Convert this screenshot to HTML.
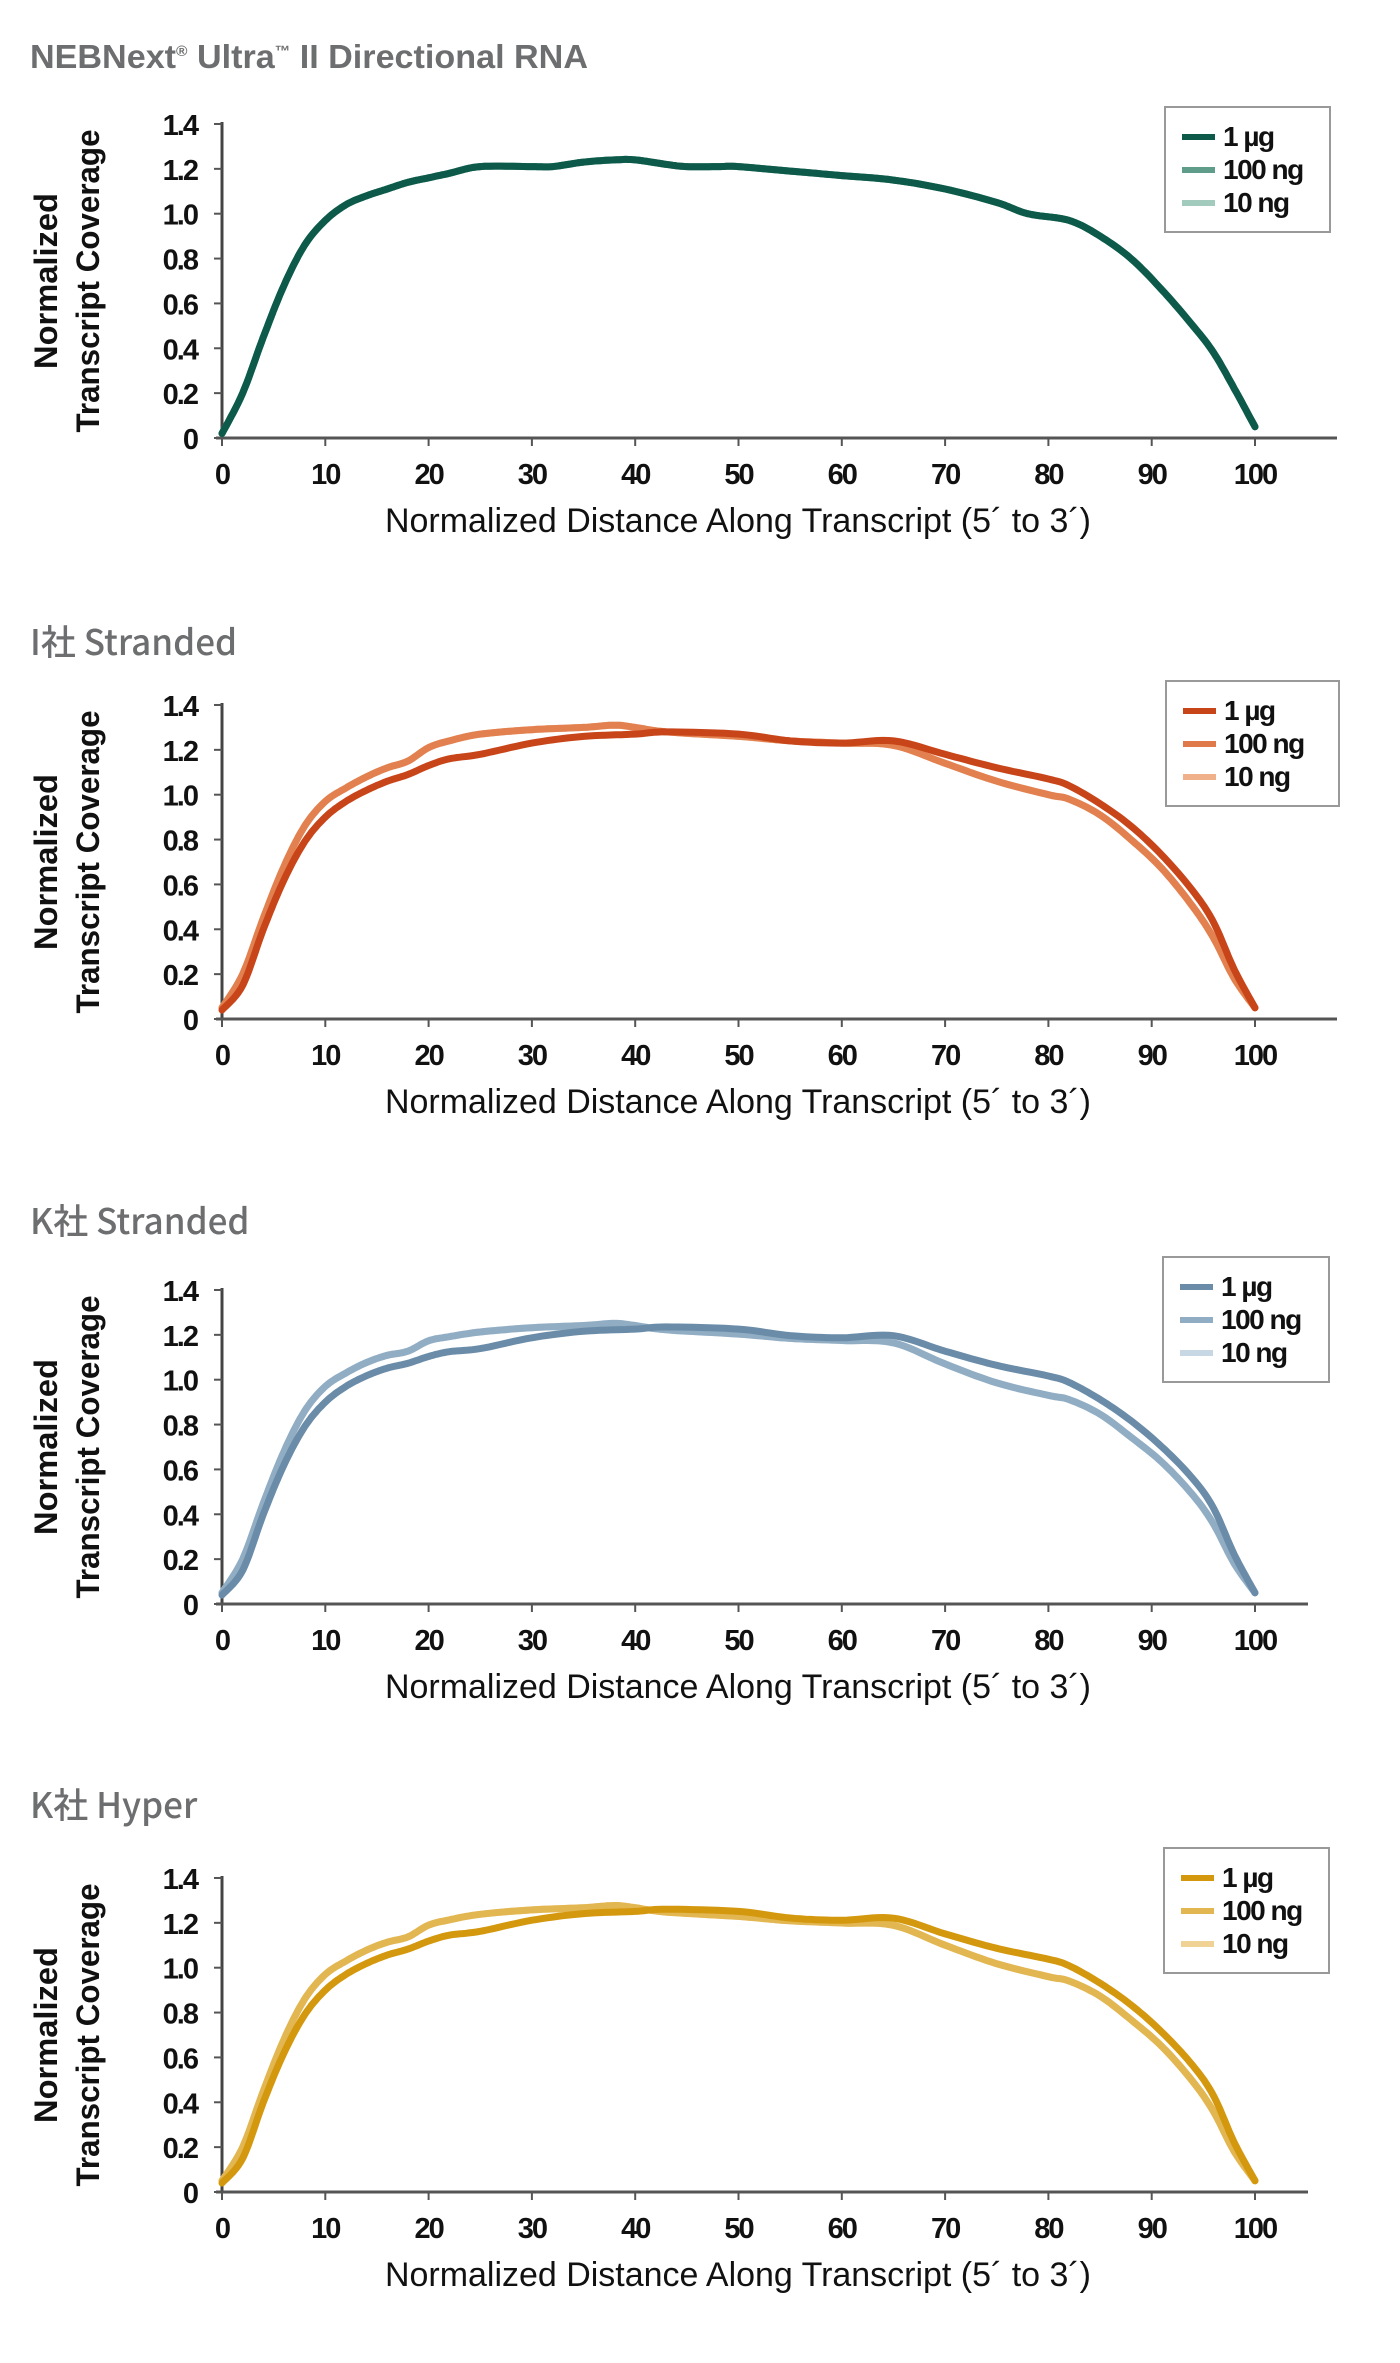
<!DOCTYPE html>
<html><head><meta charset="utf-8"><style>
html,body{margin:0;padding:0;background:#fff;}
svg{display:block;}
</style></head><body>
<svg id="s" width="1400" height="2363" xmlns="http://www.w3.org/2000/svg"></svg>
<script>
const S=document.getElementById('s');
let out='';
const X0=222, XU=10.33, YU=224.3;
function interp(pts){
  const r=[];
  for(let i=0;i<pts.length-1;i++){
    const p0=pts[Math.max(0,i-1)],p1=pts[i],p2=pts[i+1],p3=pts[Math.min(pts.length-1,i+2)];
    for(let t=0;t<1;t+=0.1){
      const t2=t*t,t3=t2*t;
      const f=(a,b,c,d)=>0.5*((2*b)+(-a+c)*t+(2*a-5*b+4*c-d)*t2+(-a+3*b-3*c+d)*t3);
      r.push([f(p0[0],p1[0],p2[0],p3[0]),f(p0[1],p1[1],p2[1],p3[1])]);
    }
  }
  r.push(pts[pts.length-1]);return r;
}
function path(pts,y0){
  return interp(pts).map((p,i)=>(i?'L':'M')+(X0+p[0]*XU).toFixed(1)+' '+(y0-p[1]*YU).toFixed(1)).join('');
}
function ss(a,b,x){let t=Math.min(1,Math.max(0,(x-a)/(b-a)));return t*t*(3-2*t);}
function scale(arr,a,b){return arr.map(p=>{const x=p[0];const k=1-a*ss(12,25,x)-(b-a)*ss(64,74,x)+b*ss(88,99,x);return [x,p[1]*k];});}
const neb=[[0,0.02],[2,0.2],[4,0.45],[6,0.68],[8,0.86],[10,0.97],[12,1.04],[14,1.08],[16,1.11],[18,1.14],[20,1.16],[22,1.18],[25,1.21],[30,1.21],[32,1.21],[35,1.23],[38,1.24],[40,1.24],[43,1.22],[45,1.21],[48,1.21],[50,1.21],[55,1.19],[60,1.17],[65,1.15],[70,1.11],[75,1.05],[78,1.0],[82,0.97],[85,0.9],[88,0.8],[91,0.66],[94,0.5],[96,0.38],[98,0.22],[100,0.05]];
const a1=[[0,0.04],[2,0.15],[4,0.4],[6,0.62],[8,0.79],[10,0.9],[12,0.97],[14,1.02],[16,1.06],[18,1.09],[20,1.13],[22,1.16],[25,1.18],[30,1.23],[35,1.26],[40,1.27],[43,1.28],[50,1.27],[55,1.24],[60,1.23],[65,1.24],[70,1.18],[75,1.12],[80,1.07],[82,1.04],[85,0.96],[88,0.86],[91,0.73],[94,0.57],[96,0.43],[98,0.22],[100,0.05]];
const a2=[[0,0.05],[2,0.2],[4,0.45],[6,0.68],[8,0.86],[10,0.97],[12,1.03],[14,1.08],[16,1.12],[18,1.15],[20,1.21],[22,1.24],[25,1.27],[30,1.29],[35,1.3],[38,1.31],[40,1.3],[43,1.28],[50,1.26],[55,1.24],[60,1.23],[65,1.22],[70,1.14],[75,1.06],[80,1.0],[82,0.98],[85,0.91],[88,0.8],[91,0.67],[94,0.5],[96,0.36],[98,0.18],[100,0.05]];
const b1=scale(a1,0.035,0.05), b2=scale(a2,0.045,0.07);
const c1=scale(a1,0.015,0.03), c2=scale(a2,0.025,0.04);
const panels=[
 {y0:438,title:'NEBNext<tspan font-size="15" dy="-12">®</tspan><tspan dy="12"> Ultra</tspan><tspan font-size="15" dy="-12">™</tspan><tspan dy="12"> II Directional RNA</tspan>',tf:'"Liberation Sans",sans-serif',tw:'bold',ts:33,ty:-370,tl:558,
  cols:['#0d5a4a','#5f9c8a','#a3cbbd'],series:[[neb,'#a3cbbd'],[neb,'#5f9c8a'],[neb,'#0d5a4a']],xe:1337,lg:[1165,107-438,1330]},
 {y0:1019,title:'I社 Stranded',tf:'"Noto Sans CJK JP",sans-serif',tw:'500',ts:35,ty:-364,
  cols:['#c8451a','#e07a4a','#f0b08a'],series:[[a2,'#f0b08a'],[a2,'#e2814f'],[a1,'#c8451a']],xe:1337,lg:[1166,681-1019,1339]},
 {y0:1604,title:'K社 Stranded',tf:'"Noto Sans CJK JP",sans-serif',tw:'500',ts:35,ty:-370,
  cols:['#6a8ca8','#91adc4','#c8d7e4'],series:[[b2,'#c8d7e4'],[b2,'#91adc4'],[b1,'#6a8ca8']],xe:1308,lg:[1163,1257-1604,1329]},
 {y0:2192,title:'K社 Hyper',tf:'"Noto Sans CJK JP",sans-serif',tw:'500',ts:35,ty:-374,
  cols:['#d4980e','#e2b650','#efd294'],series:[[c2,'#efd294'],[c2,'#e2b650'],[c1,'#d4980e']],xe:1308,lg:[1164,1848-2192,1329]}
];
const F='font-family="Liberation Sans,sans-serif"';
panels.forEach(P=>{
  const y0=P.y0;
  out+=`<text x="30" y="${y0+P.ty}" font-family='${P.tf}' font-weight="${P.tw}" font-size="${P.ts}" fill="#6d6e70" ${P.tl?`textLength="${P.tl}" lengthAdjust="spacingAndGlyphs"`:''}>${P.title}</text>`;
  const cy=y0-157;
  out+=`<text transform="translate(57,${cy}) rotate(-90)" text-anchor="middle" ${F} font-weight="bold" font-size="32" fill="#111" textLength="176" lengthAdjust="spacingAndGlyphs">Normalized</text>`;
  out+=`<text transform="translate(99,${cy}) rotate(-90)" text-anchor="middle" ${F} font-weight="bold" font-size="32" fill="#111" textLength="303" lengthAdjust="spacingAndGlyphs">Transcript Coverage</text>`;
  out+=`<line x1="${X0}" y1="${y0-316}" x2="${X0}" y2="${y0}" stroke="#444" stroke-width="3"/>`;
  out+=`<line x1="${X0-6}" y1="${y0}" x2="${P.xe}" y2="${y0}" stroke="#555" stroke-width="3"/>`;
  for(let i=0;i<=7;i++){const v=i*0.2,yy=y0-v*YU;
    out+=`<line x1="${X0-8}" y1="${yy}" x2="${X0}" y2="${yy}" stroke="#555" stroke-width="2"/>`;
    out+=`<text x="${X0-25}" y="${yy+11}" text-anchor="end" ${F} font-weight="bold" font-size="29" fill="#111" letter-spacing="-2">${i==0?'0':v.toFixed(1)}</text>`;}
  for(let i=0;i<=10;i++){const xx=X0+i*10*XU;
    out+=`<line x1="${xx}" y1="${y0}" x2="${xx}" y2="${y0+8}" stroke="#555" stroke-width="2"/>`;
    out+=`<text x="${xx}" y="${y0+46}" text-anchor="middle" ${F} font-weight="bold" font-size="29" fill="#111" letter-spacing="-2">${i*10}</text>`;}
  out+=`<text x="738" y="${y0+94}" text-anchor="middle" ${F} font-size="34" fill="#111" textLength="706" lengthAdjust="spacingAndGlyphs">Normalized Distance Along Transcript (5´ to 3´)</text>`;
  P.series.forEach(s=>{out+=`<path d="${path(s[0],y0)}" fill="none" stroke="${s[1]}" stroke-width="7" stroke-linejoin="round" stroke-linecap="round"/>`;});
  const [lx,lt,lr]=P.lg, ly=y0+lt;
  out+=`<rect x="${lx}" y="${ly}" width="${lr-lx}" height="125" fill="#fff" stroke="#999" stroke-width="2"/>`;
  ['1 µg','100 ng','10 ng'].forEach((t,i)=>{const yy=ly+30+i*33;
    out+=`<line x1="${lx+17}" y1="${yy}" x2="${lx+50}" y2="${yy}" stroke="${P.cols[i]}" stroke-width="6"/>`;
    out+=`<text x="${lx+58}" y="${yy+9}" ${F} font-weight="bold" font-size="28" fill="#111" letter-spacing="-1.5">${t}</text>`;});
});
S.innerHTML=out;
</script>
</body></html>
